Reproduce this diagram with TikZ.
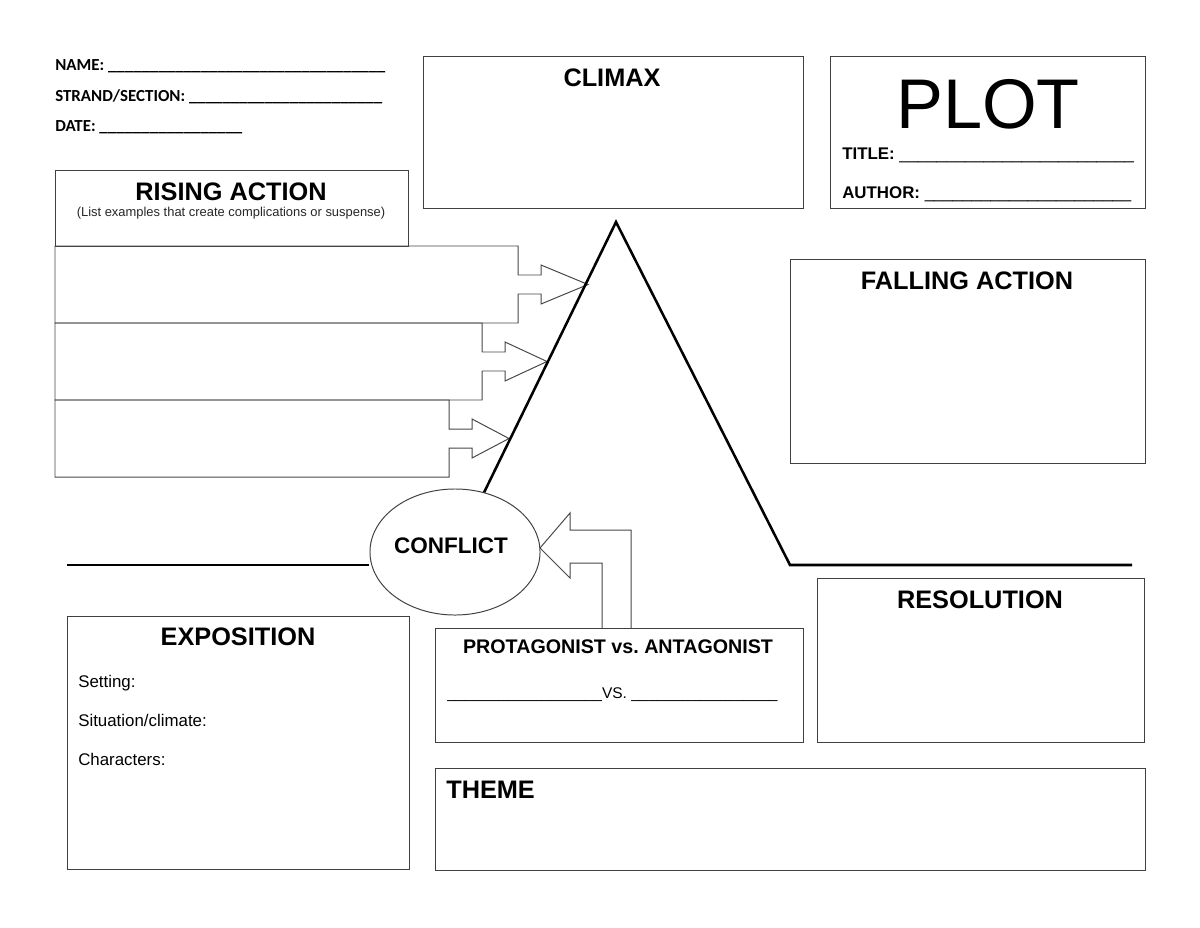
\documentclass[tikz,border=0pt]{standalone}
\usepackage{fontspec}
\setmainfont{Liberation Sans}
\newfontfamily\calibri{Carlito}
\usetikzlibrary{shapes.geometric}
\newcommand{\blankrun}[1]{\foreach \k in {1,...,#1}{\_}}

\begin{document}
\begin{tikzpicture}[
    x=0.025cm, y=-0.025cm,
    panel/.style={draw=black!75, line width=0.7pt},
    plotline/.style={line width=1.8pt, line join=miter},
    blockarrow/.style={draw=black!72, line width=0.7pt, line join=miter},
    heading/.style={font=\bfseries\fontsize{18}{20}\selectfont, inner sep=0pt, anchor=base},
    entry/.style={font=\fontsize{12}{14}\selectfont, inner sep=0pt, anchor=base west},
    header/.style={font=\calibri\bfseries\fontsize{12}{14}\selectfont, inner sep=0pt, anchor=base west},
  ]
  \useasboundingbox (0,0) rectangle (1200,927);

  % Student details
  \node[header] (name) at (55,70) {NAME: \blankrun{33}};
  \node[header] (strand) at (55,101) {STRAND/SECTION: \blankrun{23}};
  \node[header] (date) at (55,131) {DATE: \blankrun{17}};

  % Climax
  \draw[panel] (423,56) rectangle (803,208);
  \node[heading] (climax) at (612,86) {CLIMAX};

  % Plot
  \draw[panel] (830,56) rectangle (1145,208);
  \node[font=\fontsize{50}{50}\selectfont, inner sep=0pt, anchor=base] (plot) at (988,128) {PLOT};
  \node[font=\bfseries\fontsize{12}{14}\selectfont, inner sep=0pt, anchor=base west] (title) at (842,159) {TITLE: {\mdseries\blankrun{25}}};
  \node[font=\bfseries\fontsize{12}{14}\selectfont, inner sep=0pt, anchor=base west] (author) at (842,198) {AUTHOR: {\mdseries\blankrun{22}}};

  % Rising action
  \draw[panel] (55,170) rectangle (408,246);
  \node[heading] (rising) at (231,200) {RISING ACTION};
  \node[font=\fontsize{9.2}{11}\selectfont, text=black!85, inner sep=0pt, anchor=base] (risingnote) at (231,216) {(List examples that create complications or suspense)};
  \foreach \top/\edge/\tip in {246/518/588, 323/482/547, 400/449/509}
    \draw[blockarrow] (55,\top) -- (\edge,\top) -- (\edge,\top+29) -- (\edge+23,\top+29) -- (\edge+23,\top+19)
      -- (\tip,\top+38.5) -- (\edge+23,\top+58) -- (\edge+23,\top+48) -- (\edge,\top+48) -- (\edge,\top+77) -- (55,\top+77) -- cycle;

  % Conflict and the plot line
  \coordinate (apex) at (616,222);
  \coordinate (foot) at (790,565);
  \coordinate (baseL) at (67,565);
  \coordinate (baseR) at (1132,565);
  \node[ellipse, draw=black!75, line width=0.7pt, minimum width=4.25cm, minimum height=3.15cm, inner sep=0pt] (conflict) at (455,552) {};
  \node[font=\bfseries\fontsize{16}{18}\selectfont, inner sep=0pt, anchor=base] (conflictlabel) at (451,553) {CONFLICT};
  \draw[plotline] (conflict) -- (apex) -- (foot) -- (baseR);
  \draw[plotline] (baseL) -- (baseL -| conflict.west);

  % Protagonist vs antagonist
  \draw[panel] (435,628) rectangle (803,742);
  \node[font=\bfseries\fontsize{14}{16}\selectfont, inner sep=0pt, anchor=base] (versus) at (618,653) {PROTAGONIST vs.\ ANTAGONIST};
  \node[font=\fontsize{11}{13}\selectfont, inner sep=0pt, anchor=base west] (vsline) at (447,698) {\blankrun{18}VS. \blankrun{17}};
  \draw[blockarrow] (602,628) -- (602,563) -- (570,563) -- (570,578) -- (540,548) -- (570,513) -- (570,530) -- (631,530) -- (631,628);

  % Exposition
  \draw[panel] (67,616) rectangle (409,869);
  \node[heading] (exposition) at (238,645) {EXPOSITION};
  \node[entry] (setting) at (78,687) {Setting:};
  \node[entry] (situation) at (78,726) {Situation/climate:};
  \node[entry] (characters) at (78,765) {Characters:};

  % Falling action, resolution, theme
  \draw[panel] (790,259) rectangle (1145,463);
  \node[heading] (falling) at (967,289) {FALLING ACTION};
  \draw[panel] (817,578) rectangle (1144,742);
  \node[heading] (resolution) at (980,608) {RESOLUTION};
  \draw[panel] (435,768) rectangle (1145,870);
  \node[heading, anchor=base west] (theme) at (446,798) {THEME};
\end{tikzpicture}
\end{document}
